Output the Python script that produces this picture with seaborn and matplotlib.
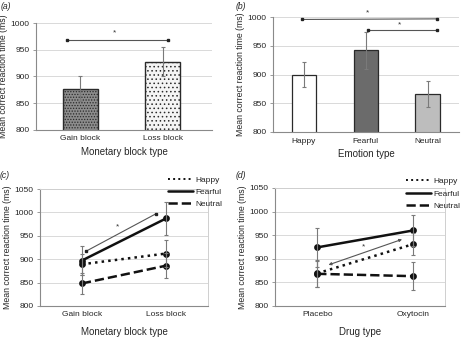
import numpy as np
import pandas as pd
import matplotlib
matplotlib.use("Agg")
import matplotlib.pyplot as plt
from matplotlib.lines import Line2D
import seaborn as sns

# ---------------- data ----------------
block_types = ["Gain block", "Loss block"]
block_means = [877, 928]
block_err = [23, 28]

emotions = ["Happy", "Fearful", "Neutral"]
emotion_means = [900, 942, 866]
emotion_err = [22, 32, 22]

# panel c: block x emotion
c_happy = [889, 912]
c_happy_err = [22, 29]
c_fearful = [897, 987]
c_fearful_err = [31, 36]
c_neutral = [848, 886]
c_neutral_err = [23, 27]

# panel d: drug x emotion
drug_types = ["Placebo", "Oxytocin"]
d_happy = [869, 931]
d_happy_err = [29, 24]
d_fearful = [924, 960]
d_fearful_err = [41, 33]
d_neutral = [868, 863]
d_neutral_err = [27, 29]

ylabel = "Mean correct reaction time (ms)"

# ---------------- style ----------------
sns.set_theme(style="white")
plt.rcParams["font.family"] = ["Liberation Sans", "DejaVu Sans"]
plt.rcParams["hatch.linewidth"] = 0.6

fig = plt.figure(figsize=(4.74, 3.5), dpi=100)

TICK_FS = 6
LAB_FS = 7
YLAB_FS = 6.3
ERR_COLOR = "#7a7a7a"
GRID_COLOR = "#d9d9d9"


def style_axes(ax, box=False):
    ax.yaxis.grid(True, color=GRID_COLOR, lw=0.7)
    ax.set_axisbelow(True)
    for s in ["left", "bottom"]:
        ax.spines[s].set_color("#8a8a8a")
        ax.spines[s].set_linewidth(0.8)
    for s in ["top", "right"]:
        if box:
            ax.spines[s].set_visible(True)
            ax.spines[s].set_color("#cfcfcf")
            ax.spines[s].set_linewidth(0.7)
        else:
            ax.spines[s].set_visible(False)
    ax.tick_params(axis="y", labelsize=TICK_FS, length=2.5, width=0.6,
                   color="#8a8a8a", left=True, pad=2)
    ax.tick_params(axis="x", labelsize=TICK_FS, length=0, pad=4)
    ax.set_ylabel(ylabel, fontsize=YLAB_FS, labelpad=2)


def sig(ax, x0, x1, y0, y1, sx, sy):
    lines = ax.plot([x0, x1], [y0, y1], color="#555555", lw=0.8,
                    marker="s", ms=1.8, mfc="#222222", mec="#222222")
    for l in lines:
        l.set_clip_on(False)
    ax.text(sx, sy, "*", fontsize=6, ha="center", va="center", color="#333333")


# ---------------- (a) ----------------
ax_a = fig.add_axes([0.076, 0.629, 0.371, 0.305])
df_a = pd.DataFrame({"block": block_types, "rt": block_means})
sns.barplot(data=df_a, x="block", y="rt", ax=ax_a, width=0.43,
            color="white", edgecolor="#2a2a2a", linewidth=1.0)
patches = ax_a.patches
patches[0].set_facecolor("#8c8c8c")
patches[0].set_hatch("......")
patches[1].set_facecolor("#f4f4f4")
patches[1].set_hatch("....")
for p in patches:
    p.set_edgecolor("#2a2a2a")
ax_a.errorbar(range(len(block_types)), block_means, yerr=block_err, fmt="none",
              ecolor=ERR_COLOR, elinewidth=0.8, capsize=1.5, capthick=0.8)
ax_a.set_ylim(800, 1000)
ax_a.set_yticks([800, 850, 900, 950, 1000])
ax_a.set_xlim(-0.54, 1.6)
style_axes(ax_a)
ax_a.set_xlabel("Monetary block type", fontsize=LAB_FS, labelpad=3)
sig(ax_a, -0.16, 1.07, 968, 968, 0.42, 982)

# ---------------- (b) ----------------
ax_b = fig.add_axes([0.576, 0.623, 0.392, 0.328])
df_b = pd.DataFrame({"emotion": emotions, "rt": emotion_means})
sns.barplot(data=df_b, x="emotion", y="rt", ax=ax_b, width=0.4,
            hue="emotion", palette=["#ffffff", "#6b6b6b", "#bdbdbd"],
            edgecolor="#2a2a2a", linewidth=0.9, legend=False)
ax_b.errorbar(range(len(emotions)), emotion_means, yerr=emotion_err, fmt="none",
              ecolor=ERR_COLOR, elinewidth=0.8, capsize=1.5, capthick=0.8)
ax_b.set_ylim(800, 1000)
ax_b.set_yticks([800, 850, 900, 950, 1000])
ax_b.set_xlim(-0.5, 2.5)
style_axes(ax_b)
ax_b.set_xlabel("Emotion type", fontsize=LAB_FS, labelpad=3)
sig(ax_b, -0.03, 2.14, 996, 997, 1.02, 1007)
sig(ax_b, 1.03, 2.14, 978, 978, 1.55, 986)


# ---------------- line panels ----------------
def line_panel(ax, cats, h, f, n, he, fe, ne, xlabel, xlim, legend_anchor):
    df = pd.DataFrame({
        "cond": cats * 3,
        "rt": h + f + n,
        "emotion": ["Happy"] * len(cats) + ["Fearful"] * len(cats) + ["Neutral"] * len(cats),
    })
    sns.pointplot(data=df, x="cond", y="rt", hue="emotion", ax=ax,
                  palette=["#111111"] * 3, linestyles=[":", "-", "--"],
                  markers="o", markersize=3.5, linewidth=1.8, errorbar=None,
                  legend=False)
    for vals, errs in [(h, he), (f, fe), (n, ne)]:
        ax.errorbar(range(len(cats)), vals, yerr=errs, fmt="none",
                    ecolor=ERR_COLOR, elinewidth=0.8, capsize=1.5, capthick=0.8)
    ax.set_ylim(800, 1050)
    ax.set_yticks([800, 850, 900, 950, 1000, 1050])
    ax.set_xlim(*xlim)
    style_axes(ax, box=True)
    ax.set_xlabel(xlabel, fontsize=LAB_FS, labelpad=6)
    handles = [Line2D([], [], color="#111111", ls=":", lw=1.4),
               Line2D([], [], color="#111111", ls="-", lw=1.8),
               Line2D([], [], color="#111111", ls="--", lw=1.8)]
    fig.legend(handles, ["Happy", "Fearful", "Neutral"], loc="upper right",
               bbox_to_anchor=legend_anchor, bbox_transform=fig.transFigure,
               frameon=False, fontsize=TICK_FS, handlelength=3.0,
               handletextpad=0.3, labelspacing=0.55, borderpad=0,
               borderaxespad=0)


ax_c = fig.add_axes([0.084, 0.126, 0.355, 0.334])
line_panel(ax_c, block_types, c_happy, c_fearful, c_neutral,
           c_happy_err, c_fearful_err, c_neutral_err,
           "Monetary block type", (-0.5, 1.5), (0.47, 0.498))
sig(ax_c, 0.05, 0.88, 917, 997, 0.42, 968)

ax_d = fig.add_axes([0.580, 0.126, 0.359, 0.337])
line_panel(ax_d, drug_types, d_happy, d_fearful, d_neutral,
           d_happy_err, d_fearful_err, d_neutral_err,
           "Drug type", (-0.44, 1.33), (0.972, 0.493))
ax_d.annotate("", xy=(0.09, 885), xytext=(0.91, 943),
              arrowprops=dict(arrowstyle="<|-|>", color="#555555", lw=0.8,
                              mutation_scale=4))
ax_d.text(0.48, 926, "*", fontsize=6, ha="center", va="center", color="#333333")

# panel letters
for x, y, t in [(0.002, 0.995, "(a)"), (0.498, 0.995, "(b)"),
                (0.0, 0.51, "(c)"), (0.498, 0.51, "(d)")]:
    fig.text(x, y, t, fontsize=6.2, style="italic", ha="left", va="top")

fig.savefig("out.png", dpi=100)
